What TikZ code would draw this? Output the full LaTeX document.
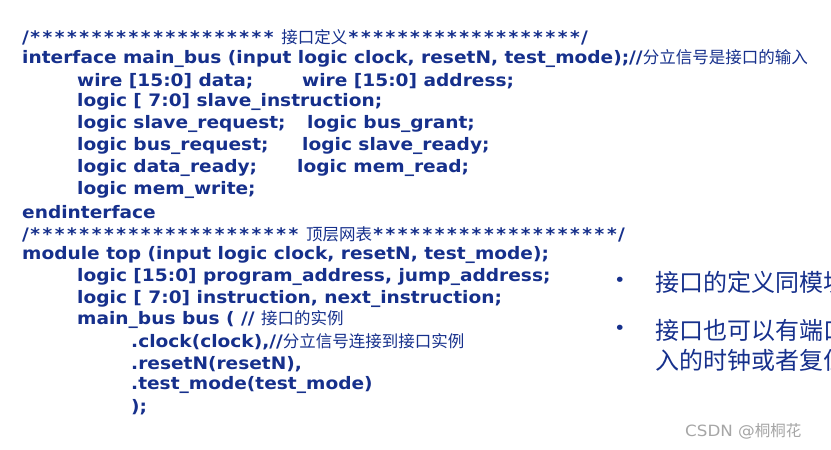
\documentclass[tikz,border=0pt]{standalone}
\usepackage{fontspec}
\setmainfont{DejaVu Sans}[FakeStretch=1.08]
\newfontfamily\cjk{Noto Sans CJK SC}
\definecolor{codeblue}{RGB}{22,48,140}
\newcommand{\zh}[1]{{\mdseries\cjk\fontsize{16.5}{18}\selectfont #1}}
\newcommand{\stars}[1]{\foreach\i in {1,...,#1}{\makebox[12.3pt]{*}}}
\begin{document}
\begin{tikzpicture}[x=1pt,y=-1pt,
  code/.style={anchor=west,inner sep=0pt,text=codeblue,font=\bfseries\fontsize{17.2}{19}\selectfont},
  big/.style={anchor=west,inner sep=0pt,text=codeblue,font=\cjk\fontsize{24}{26}\selectfont},
  bul/.style={anchor=west,inner sep=0pt,text=codeblue,font=\fontsize{18}{20}\selectfont}]
\useasboundingbox (0,0) rectangle (831,450);
\clip (0,0) rectangle (831,450);
\fill[white] (0,0) rectangle (831,450);
\node[code] (l1) at (22,37) {/\stars{20} \zh{接口定义}\stars{19}/};
\node[code] (l2) at (22,59) {interface main\_bus (input logic clock, resetN, test\_mode);//\zh{分立信号是接口的输入}};
\node[code] (l3) at (77,81) {wire [15:0] data;};
\node[code] (l3b) at (302,81) {wire [15:0] address;};
\node[code] (l4) at (77,102) {logic [ 7:0] slave\_instruction;};
\node[code] (l5) at (77,124) {logic slave\_request;};
\node[code] (l5b) at (307,124) {logic bus\_grant;};
\node[code] (l6) at (77,146) {logic bus\_request;};
\node[code] (l6b) at (302,146) {logic slave\_ready;};
\node[code] (l7) at (77,168) {logic data\_ready;};
\node[code] (l7b) at (297,168) {logic mem\_read;};
\node[code] (l8) at (77,190) {logic mem\_write;};
\node[code] (l9) at (22,212) {endinterface};
\node[code] (l10) at (22,234) {/\stars{22} \zh{顶层网表}\stars{20}/};
\node[code] (l11) at (22,255) {module top (input logic clock, resetN, test\_mode);};
\node[code] (l12) at (77,277) {logic [15:0] program\_address, jump\_address;};
\node[code] (l13) at (77,299) {logic [ 7:0] instruction, next\_instruction;};
\node[code] (l14) at (77,320) {main\_bus bus ( // \zh{接口的实例}};
\node[code] (l15) at (131,342) {.clock(clock),//\zh{分立信号连接到接口实例}};
\node[code] (l16) at (131,364) {.resetN(resetN),};
\node[code] (l17) at (131,385) {.test\_mode(test\_mode)};
\node[code] (l18) at (131,407) {);};
\node[bul] (b1) at (614,282) {•};
\node[big] (t1) at (655,282) {接口的定义同模块};
\node[bul] (b2) at (614,330) {•};
\node[big] (t2) at (655,330) {接口也可以有端口};
\node[big] (t3) at (655,360) {入的时钟或者复位};
\node[anchor=west,inner sep=0pt,text=gray!70,font=\fontsize{15.5}{17}\selectfont] (wm) at (685,431) {CSDN @\cjk 桐桐花};
\end{tikzpicture}
\end{document}
